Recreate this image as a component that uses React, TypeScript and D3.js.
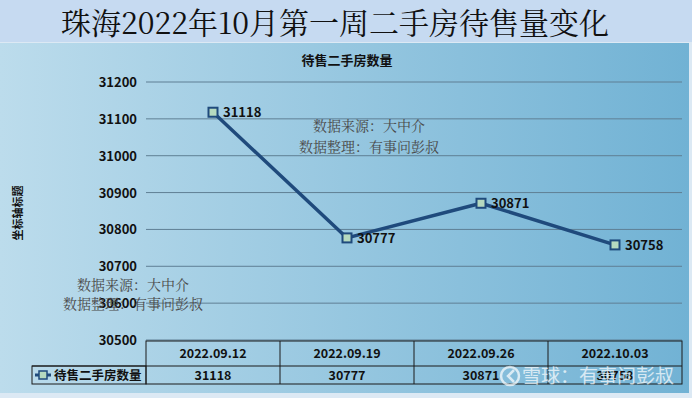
import React, { useEffect, useRef } from 'react';
import * as d3 from 'd3';

const categories = ['2022.09.12', '2022.09.19', '2022.09.26', '2022.10.03'];
const values = [31118, 30777, 30871, 30758];
const yTicks = [30500, 30600, 30700, 30800, 30900, 31000, 31100, 31200];
const seriesName = '待售二手房数量';
const mainTitle = '珠海2022年10月第一周二手房待售量变化';
const chartTitle = '待售二手房数量';
const axisTitle = '坐标轴标题';
const notes = ['数据来源：大中介', '数据整理：有事问彭叔'];

const W = 692;
const H = 398;
const SANS = '"Noto Sans CJK SC", "Open Sans", sans-serif';
const SERIF = '"Noto Serif CJK SC", "DejaVu Serif", "Noto Sans CJK SC", serif';

export default function App() {
  const svgRef = useRef<SVGSVGElement>(null);

  useEffect(() => {
    document.body.style.margin = '0';
    if (!svgRef.current) return;
    const svg = d3.select(svgRef.current);
    svg.selectAll('*').remove();

    const defs = svg.append('defs');
    const bg = defs.append('linearGradient').attr('id', 'bg-grad');
    bg.append('stop').attr('offset', '0%').attr('stop-color', '#bcdcec');
    bg.append('stop').attr('offset', '100%').attr('stop-color', '#71b2d4');

    // page + title band
    svg.append('rect').attr('width', W).attr('height', H).attr('fill', '#dce9f4');
    svg.append('rect').attr('x', 0).attr('y', 0).attr('width', W).attr('height', 42).attr('fill', '#c6daf1');
    svg.append('text').attr('x', 335).attr('y', 34)
      .attr('text-anchor', 'middle').attr('font-size', 30).attr('font-family', SERIF)
      .attr('fill', '#111').text(mainTitle);

    // chart area
    svg.append('rect').attr('x', 0).attr('y', 43).attr('width', 689).attr('height', 350)
      .attr('fill', 'url(#bg-grad)');

    svg.append('text').attr('x', 347).attr('y', 65)
      .attr('text-anchor', 'middle').attr('font-size', 13).attr('font-weight', 'bold')
      .attr('font-family', SANS).attr('fill', '#111').text(chartTitle);

    const x = d3.scaleBand<string>().domain(categories).range([146, 682]);
    const y = d3.scaleLinear().domain([30500, 31200]).range([340, 82]);

    // gridlines + tick labels
    const grid = svg.append('g');
    yTicks.forEach(t => {
      grid.append('line').attr('x1', 146).attr('x2', 682)
        .attr('y1', y(t)).attr('y2', y(t))
        .attr('stroke', '#5f7f94').attr('stroke-width', 1);
      grid.append('text').attr('x', 137).attr('y', y(t) + 5)
        .attr('text-anchor', 'end').attr('font-size', 13).attr('font-weight', 'bold')
        .attr('font-family', SANS).attr('fill', '#111').text(t);
    });

    svg.append('text')
      .attr('transform', `translate(22,${213}) rotate(-90)`)
      .attr('text-anchor', 'middle').attr('font-size', 11).attr('font-weight', 'bold')
      .attr('font-family', SANS).attr('fill', '#111').text(axisTitle);

    // line
    const cx = (c: string) => (x(c) ?? 0) + x.bandwidth() / 2;
    const line = d3.line<number>()
      .x((_, i) => cx(categories[i]))
      .y(d => y(d));
    svg.append('path').datum(values).attr('d', line)
      .attr('fill', 'none').attr('stroke', '#1f4a7c').attr('stroke-width', 3.5)
      .attr('stroke-linejoin', 'round');

    values.forEach((v, i) => {
      const px = cx(categories[i]);
      const py = y(v);
      svg.append('rect').attr('x', px - 4.5).attr('y', py - 4.5)
        .attr('width', 9).attr('height', 9)
        .attr('fill', '#b5d9bf').attr('stroke', '#1f4a7c').attr('stroke-width', 2);
      svg.append('text').attr('x', px + 10).attr('y', py + 5)
        .attr('font-size', 13).attr('font-weight', 'bold')
        .attr('font-family', SANS).attr('fill', '#111').text(v);
    });

    // data table
    const t1 = 341, t2 = 366, t3 = 384;
    const tbl = svg.append('g').attr('stroke', '#1a1a1a').attr('stroke-width', 1).attr('fill', 'none');
    tbl.append('rect').attr('x', 146).attr('y', t1).attr('width', 536).attr('height', t3 - t1);
    tbl.append('line').attr('x1', 32).attr('x2', 682).attr('y1', t2).attr('y2', t2);
    tbl.append('rect').attr('x', 32).attr('y', t2).attr('width', 114).attr('height', t3 - t2);
    categories.forEach((c, i) => {
      if (i > 0) {
        tbl.append('line').attr('x1', x(c) ?? 0).attr('x2', x(c) ?? 0).attr('y1', t1).attr('y2', t3);
      }
    });
    categories.forEach((c, i) => {
      svg.append('text').attr('x', cx(c)).attr('y', t1 + 17)
        .attr('text-anchor', 'middle').attr('font-size', 12.5).attr('font-weight', 'bold')
        .attr('font-family', SANS).attr('fill', '#111').text(c);
      svg.append('text').attr('x', cx(c)).attr('y', t2 + 14)
        .attr('text-anchor', 'middle').attr('font-size', 12.5).attr('font-weight', 'bold')
        .attr('font-family', SANS).attr('fill', '#111').text(values[i]);
    });
    // legend key in table
    svg.append('line').attr('x1', 35).attr('x2', 51).attr('y1', t2 + 9).attr('y2', t2 + 9)
      .attr('stroke', '#1f4a7c').attr('stroke-width', 3);
    svg.append('rect').attr('x', 39).attr('y', t2 + 5).attr('width', 8).attr('height', 8)
      .attr('fill', '#b5d9bf').attr('stroke', '#1f4a7c').attr('stroke-width', 1.5);
    svg.append('text').attr('x', 54).attr('y', t2 + 14)
      .attr('font-size', 12.5).attr('font-weight', 'bold')
      .attr('font-family', SANS).attr('fill', '#111').text(seriesName);

    // source notes
    const noteG = svg.append('g').attr('font-family', SERIF).attr('font-size', 14).attr('fill', '#4a4a4a');
    noteG.append('text').attr('x', 313).attr('y', 131).text(notes[0]);
    noteG.append('text').attr('x', 299).attr('y', 152).text(notes[1]);
    noteG.append('text').attr('x', 77).attr('y', 290).text(notes[0]);
    noteG.append('text').attr('x', 63).attr('y', 309).text(notes[1]);

    // watermark
    const wm = svg.append('g').attr('opacity', 0.7);
    wm.append('circle').attr('cx', 510).attr('cy', 376).attr('r', 9)
      .attr('fill', 'none').attr('stroke', '#fff').attr('stroke-width', 2.5);
    wm.append('path').attr('d', 'M514,370 L508,376 L514,382')
      .attr('fill', 'none').attr('stroke', '#fff').attr('stroke-width', 2.5);
    wm.append('text').attr('x', 522).attr('y', 383)
      .attr('font-size', 19).attr('font-family', SANS).attr('fill', '#fff')
      .text('雪球：有事问彭叔');
  }, []);

  return <svg ref={svgRef} width={W} height={H} style={{ display: 'block' }} />;
}
